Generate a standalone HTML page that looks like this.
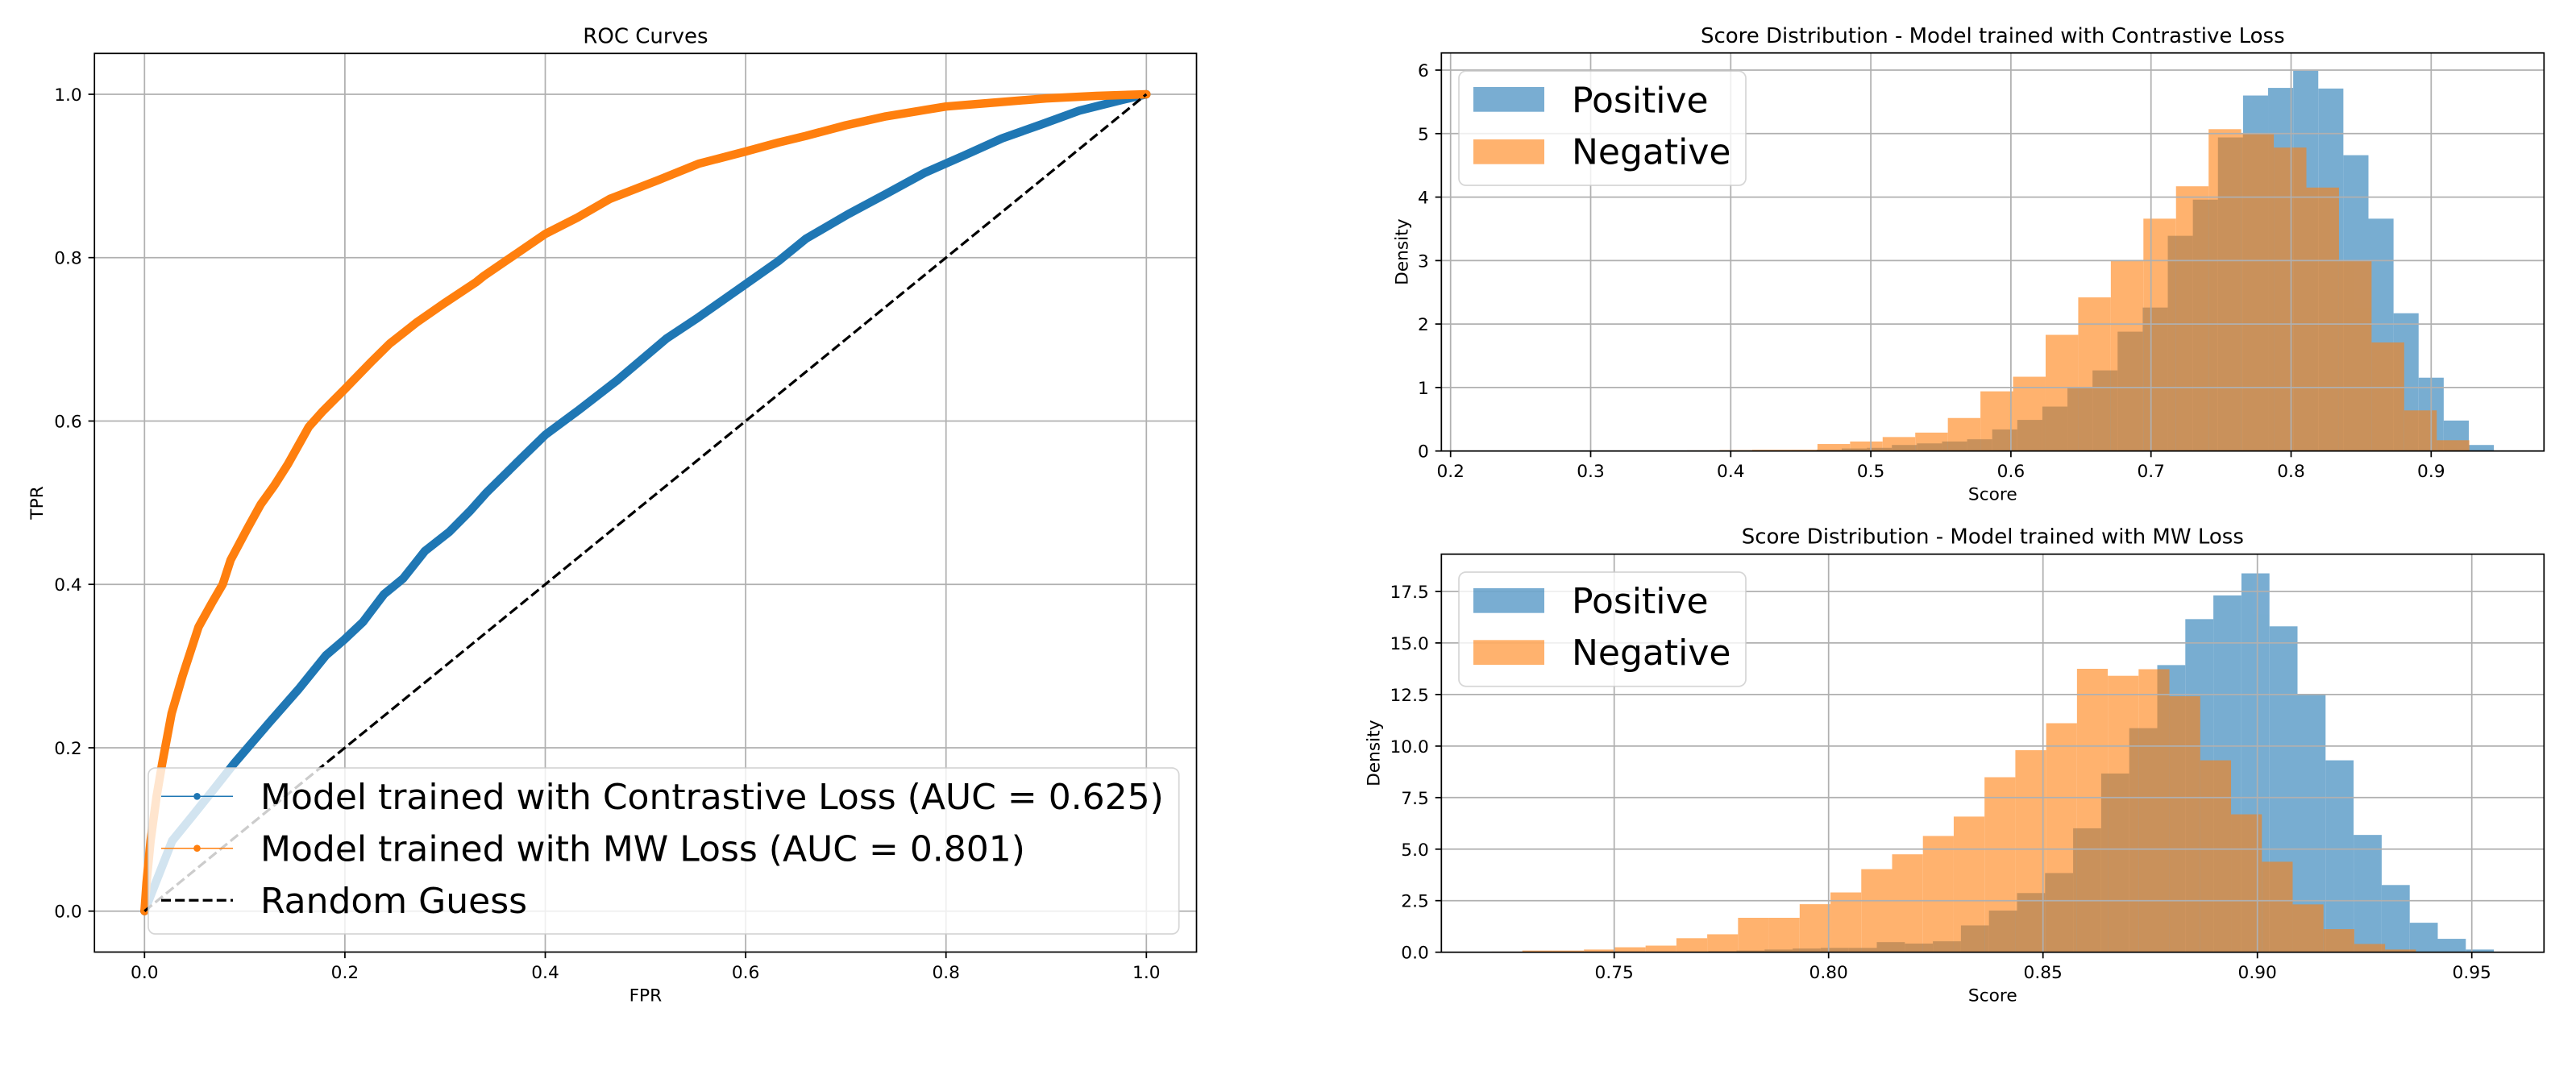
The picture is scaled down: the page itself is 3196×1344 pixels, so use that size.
<!DOCTYPE html>
<html><head><meta charset="utf-8"><style>
html,body{margin:0;padding:0;background:#fff;}
svg{display:block;}
text{font-family:"DejaVu Sans","Liberation Sans",sans-serif;fill:#000;}
.tk{font-size:21.7px;}
.ttl{font-size:26px;}
.lg{font-size:44px;}
</style></head><body>
<svg width="3196" height="1344" viewBox="0 0 3196 1344" xmlns="http://www.w3.org/2000/svg">
<rect x="0" y="0" width="3196" height="1344" fill="#fff"/>

<!-- ================= ROC ================= -->
<g stroke="#b0b0b0" stroke-width="1.73" fill="none">
<line x1="179.3" y1="66.3" x2="179.3" y2="1181.5"/>
<line x1="427.9" y1="66.3" x2="427.9" y2="1181.5"/>
<line x1="676.5" y1="66.3" x2="676.5" y2="1181.5"/>
<line x1="925.1" y1="66.3" x2="925.1" y2="1181.5"/>
<line x1="1173.7" y1="66.3" x2="1173.7" y2="1181.5"/>
<line x1="1422.3" y1="66.3" x2="1422.3" y2="1181.5"/>
<line x1="117.2" y1="1130.7" x2="1484.5" y2="1130.7"/>
<line x1="117.2" y1="928.0" x2="1484.5" y2="928.0"/>
<line x1="117.2" y1="725.2" x2="1484.5" y2="725.2"/>
<line x1="117.2" y1="522.5" x2="1484.5" y2="522.5"/>
<line x1="117.2" y1="319.7" x2="1484.5" y2="319.7"/>
<line x1="117.2" y1="117.0" x2="1484.5" y2="117.0"/>
</g>
<polyline fill="none" stroke="#1f77b4" stroke-width="10.5" stroke-linejoin="round" stroke-linecap="round" points="179.3,1130.7 213.6,1043.5 240.0,1011.1 266.7,977.6 289.9,948.2 333.4,897.5 370.7,855.0 404.3,813.4 426.7,794.2 450.3,771.9 476.4,737.4 500.0,718.1 527.3,683.7 557.2,660.3 583.3,634.0 603.2,611.7 650.4,565.1 676.5,539.7 717.5,509.3 766.0,471.8 826.9,420.1 866.7,393.7 920.1,356.2 966.1,323.8 999.7,296.4 1051.9,266.0 1099.1,240.7 1147.6,214.3 1196.1,193.0 1243.3,171.7 1291.8,154.5 1339.0,137.3 1387.5,125.1 1422.3,117.0"/>
<polyline fill="none" stroke="#ff7f0e" stroke-width="10.5" stroke-linejoin="round" stroke-linecap="round" points="179.3,1130.7 181.8,1095.2 186.8,1043.5 194.2,988.8 201.1,948.2 212.9,885.4 226.5,838.8 246.4,777.9 263.3,747.5 276.3,725.2 286.2,694.8 306.7,656.3 323.5,625.9 340.3,602.6 357.1,576.2 383.2,529.6 400.5,510.3 426.7,484.0 460.2,449.5 483.8,426.2 517.4,399.8 551.0,376.5 590.7,350.1 599.4,343.1 676.5,290.3 716.3,270.1 756.7,246.8 817.0,223.4 866.7,203.2 925.1,188.0 966.1,176.8 999.7,168.7 1049.4,155.5 1099.1,144.4 1173.7,132.2 1235.9,127.1 1298.0,122.1 1360.2,119.0 1422.3,117.0"/>
<line x1="179.3" y1="1130.7" x2="1422.3" y2="117.0" stroke="#000" stroke-width="3.25" stroke-dasharray="12 5.2"/>
<!-- spines -->
<rect x="117.2" y="66.3" width="1367.3" height="1115.2" fill="none" stroke="#000" stroke-width="1.73"/>
<!-- ticks -->
<g stroke="#000" stroke-width="1.73">
<line x1="179.3" y1="1181.5" x2="179.3" y2="1189.1"/>
<line x1="427.9" y1="1181.5" x2="427.9" y2="1189.1"/>
<line x1="676.5" y1="1181.5" x2="676.5" y2="1189.1"/>
<line x1="925.1" y1="1181.5" x2="925.1" y2="1189.1"/>
<line x1="1173.7" y1="1181.5" x2="1173.7" y2="1189.1"/>
<line x1="1422.3" y1="1181.5" x2="1422.3" y2="1189.1"/>
<line x1="109.6" y1="1130.7" x2="117.2" y2="1130.7"/>
<line x1="109.6" y1="928.0" x2="117.2" y2="928.0"/>
<line x1="109.6" y1="725.2" x2="117.2" y2="725.2"/>
<line x1="109.6" y1="522.5" x2="117.2" y2="522.5"/>
<line x1="109.6" y1="319.7" x2="117.2" y2="319.7"/>
<line x1="109.6" y1="117.0" x2="117.2" y2="117.0"/>
</g>
<g class="tk" text-anchor="middle">
<text x="179.3" y="1214">0.0</text>
<text x="427.9" y="1214">0.2</text>
<text x="676.5" y="1214">0.4</text>
<text x="925.1" y="1214">0.6</text>
<text x="1173.7" y="1214">0.8</text>
<text x="1422.3" y="1214">1.0</text>
</g>
<g class="tk" text-anchor="end">
<text x="101.7" y="1138.7">0.0</text>
<text x="101.7" y="936.0">0.2</text>
<text x="101.7" y="733.2">0.4</text>
<text x="101.7" y="530.5">0.6</text>
<text x="101.7" y="327.7">0.8</text>
<text x="101.7" y="125.0">1.0</text>
</g>
<text class="ttl" x="800.9" y="53.3" text-anchor="middle">ROC Curves</text>
<text class="tk" x="800.9" y="1242.5" text-anchor="middle">FPR</text>
<text class="tk" x="52.9" y="623.9" text-anchor="middle" transform="rotate(-90 52.9 623.9)">TPR</text>
<!-- legend -->
<rect x="184" y="953" width="1278.7" height="206" rx="8.7" ry="8.7" fill="#fff" fill-opacity="0.8" stroke="#cccccc" stroke-opacity="0.8" stroke-width="1.73"/>
<line x1="200" y1="988.3" x2="289" y2="988.3" stroke="#1f77b4" stroke-width="1.5"/>
<circle cx="244.5" cy="988.3" r="4.3" fill="#1f77b4"/>
<line x1="200" y1="1052.7" x2="289" y2="1052.7" stroke="#ff7f0e" stroke-width="1.5"/>
<circle cx="244.5" cy="1052.7" r="4.3" fill="#ff7f0e"/>
<line x1="200" y1="1117.3" x2="289" y2="1117.3" stroke="#000" stroke-width="3.25" stroke-dasharray="12 5.2"/>
<text class="lg" x="323" y="1004">Model trained with Contrastive Loss (AUC = 0.625)</text>
<text class="lg" x="323" y="1068.5">Model trained with MW Loss (AUC = 0.801)</text>
<text class="lg" x="323" y="1133">Random Guess</text>

<!-- ================= TOP HIST ================= -->
<g transform="translate(2160.5,559.7) scale(31.12,-78.78)">
<g fill="#1f77b4" opacity="0.6">
<rect x="0" y="0" width="1" height="0.005"/><rect x="1" y="0" width="1" height="0.005"/><rect x="2" y="0" width="1" height="0.01"/><rect x="3" y="0" width="1" height="0.02"/><rect x="4" y="0" width="1" height="0.04"/><rect x="5" y="0" width="1" height="0.05"/><rect x="6" y="0" width="1" height="0.095"/><rect x="7" y="0" width="1" height="0.12"/><rect x="8" y="0" width="1" height="0.15"/><rect x="9" y="0" width="1" height="0.185"/><rect x="10" y="0" width="1" height="0.34"/><rect x="11" y="0" width="1" height="0.49"/><rect x="12" y="0" width="1" height="0.70"/><rect x="13" y="0" width="1" height="1.0"/><rect x="14" y="0" width="1" height="1.27"/><rect x="15" y="0" width="1" height="1.88"/><rect x="16" y="0" width="1" height="2.26"/><rect x="17" y="0" width="1" height="3.39"/><rect x="18" y="0" width="1" height="3.96"/><rect x="19" y="0" width="1" height="4.94"/><rect x="20" y="0" width="1" height="5.60"/><rect x="21" y="0" width="1" height="5.72"/><rect x="22" y="0" width="1" height="5.99"/><rect x="23" y="0" width="1" height="5.71"/><rect x="24" y="0" width="1" height="4.66"/><rect x="25" y="0" width="1" height="3.66"/><rect x="26" y="0" width="1" height="2.17"/><rect x="27" y="0" width="1" height="1.155"/><rect x="28" y="0" width="1" height="0.48"/><rect x="29" y="0" width="1" height="0.095"/>
</g></g>
<g transform="translate(1850.5,559.7) scale(40.44,-78.78)">
<g fill="#ff7f0e" opacity="0.6">
<rect x="6" y="0" width="1" height="0.01"/><rect x="7" y="0" width="1" height="0.015"/><rect x="8" y="0" width="1" height="0.02"/><rect x="9" y="0" width="1" height="0.02"/><rect x="10" y="0" width="1" height="0.11"/><rect x="11" y="0" width="1" height="0.15"/><rect x="12" y="0" width="1" height="0.22"/><rect x="13" y="0" width="1" height="0.29"/><rect x="14" y="0" width="1" height="0.52"/><rect x="15" y="0" width="1" height="0.94"/><rect x="16" y="0" width="1" height="1.17"/><rect x="17" y="0" width="1" height="1.83"/><rect x="18" y="0" width="1" height="2.42"/><rect x="19" y="0" width="1" height="3.01"/><rect x="20" y="0" width="1" height="3.66"/><rect x="21" y="0" width="1" height="4.17"/><rect x="22" y="0" width="1" height="5.07"/><rect x="23" y="0" width="1" height="5.0"/><rect x="24" y="0" width="1" height="4.78"/><rect x="25" y="0" width="1" height="4.15"/><rect x="26" y="0" width="1" height="3.0"/><rect x="27" y="0" width="1" height="1.71"/><rect x="28" y="0" width="1" height="0.64"/><rect x="29" y="0" width="1" height="0.17"/>
</g></g>
<g stroke="#b0b0b0" stroke-width="1.73" fill="none">
<line x1="1799.7" y1="65.7" x2="1799.7" y2="559.7"/>
<line x1="1973.5" y1="65.7" x2="1973.5" y2="559.7"/>
<line x1="2147.3" y1="65.7" x2="2147.3" y2="559.7"/>
<line x1="2321.1" y1="65.7" x2="2321.1" y2="559.7"/>
<line x1="2494.9" y1="65.7" x2="2494.9" y2="559.7"/>
<line x1="2668.7" y1="65.7" x2="2668.7" y2="559.7"/>
<line x1="2842.5" y1="65.7" x2="2842.5" y2="559.7"/>
<line x1="3016.3" y1="65.7" x2="3016.3" y2="559.7"/>
<line x1="1788.3" y1="480.9" x2="3156.3" y2="480.9"/>
<line x1="1788.3" y1="402.1" x2="3156.3" y2="402.1"/>
<line x1="1788.3" y1="323.4" x2="3156.3" y2="323.4"/>
<line x1="1788.3" y1="244.6" x2="3156.3" y2="244.6"/>
<line x1="1788.3" y1="165.8" x2="3156.3" y2="165.8"/>
<line x1="1788.3" y1="87.0" x2="3156.3" y2="87.0"/>
</g>
<rect x="1788.3" y="65.7" width="1368" height="494" fill="none" stroke="#000" stroke-width="1.73"/>
<g stroke="#000" stroke-width="1.73">
<line x1="1799.7" y1="559.7" x2="1799.7" y2="567.3"/>
<line x1="1973.5" y1="559.7" x2="1973.5" y2="567.3"/>
<line x1="2147.3" y1="559.7" x2="2147.3" y2="567.3"/>
<line x1="2321.1" y1="559.7" x2="2321.1" y2="567.3"/>
<line x1="2494.9" y1="559.7" x2="2494.9" y2="567.3"/>
<line x1="2668.7" y1="559.7" x2="2668.7" y2="567.3"/>
<line x1="2842.5" y1="559.7" x2="2842.5" y2="567.3"/>
<line x1="3016.3" y1="559.7" x2="3016.3" y2="567.3"/>
<line x1="1780.7" y1="559.7" x2="1788.3" y2="559.7"/>
<line x1="1780.7" y1="480.9" x2="1788.3" y2="480.9"/>
<line x1="1780.7" y1="402.1" x2="1788.3" y2="402.1"/>
<line x1="1780.7" y1="323.4" x2="1788.3" y2="323.4"/>
<line x1="1780.7" y1="244.6" x2="1788.3" y2="244.6"/>
<line x1="1780.7" y1="165.8" x2="1788.3" y2="165.8"/>
<line x1="1780.7" y1="87.0" x2="1788.3" y2="87.0"/>
</g>
<g class="tk" text-anchor="middle">
<text x="1799.7" y="592.2">0.2</text>
<text x="1973.5" y="592.2">0.3</text>
<text x="2147.3" y="592.2">0.4</text>
<text x="2321.1" y="592.2">0.5</text>
<text x="2494.9" y="592.2">0.6</text>
<text x="2668.7" y="592.2">0.7</text>
<text x="2842.5" y="592.2">0.8</text>
<text x="3016.3" y="592.2">0.9</text>
</g>
<g class="tk" text-anchor="end">
<text x="1772.8" y="567.7">0</text>
<text x="1772.8" y="488.9">1</text>
<text x="1772.8" y="410.1">2</text>
<text x="1772.8" y="331.4">3</text>
<text x="1772.8" y="252.6">4</text>
<text x="1772.8" y="173.8">5</text>
<text x="1772.8" y="95.0">6</text>
</g>
<text class="ttl" x="2472.3" y="53" text-anchor="middle">Score Distribution - Model trained with Contrastive Loss</text>
<text class="tk" x="2472.3" y="620.7" text-anchor="middle">Score</text>
<text class="tk" x="1746.4" y="312.7" text-anchor="middle" transform="rotate(-90 1746.4 312.7)">Density</text>
<rect x="1810" y="88.3" width="356" height="141.7" rx="8.7" ry="8.7" fill="#fff" fill-opacity="0.8" stroke="#cccccc" stroke-opacity="0.8" stroke-width="1.73"/>
<rect x="1828" y="108" width="88" height="30.7" fill="#1f77b4" opacity="0.6"/>
<rect x="1828" y="173" width="88" height="30.7" fill="#ff7f0e" opacity="0.6"/>
<text class="lg" x="1950" y="139.3">Positive</text>
<text class="lg" x="1950" y="203.7">Negative</text>

<!-- ================= BOTTOM HIST ================= -->
<g transform="translate(2050.1,1181.7) scale(34.8,-25.58)">
<g fill="#1f77b4" opacity="0.6">
<rect x="0" y="0" width="1" height="0.02"/><rect x="1" y="0" width="1" height="0.03"/><rect x="2" y="0" width="1" height="0.05"/><rect x="3" y="0" width="1" height="0.08"/><rect x="4" y="0" width="1" height="0.13"/><rect x="5" y="0" width="1" height="0.18"/><rect x="6" y="0" width="1" height="0.21"/><rect x="7" y="0" width="1" height="0.21"/><rect x="8" y="0" width="1" height="0.49"/><rect x="9" y="0" width="1" height="0.42"/><rect x="10" y="0" width="1" height="0.53"/><rect x="11" y="0" width="1" height="1.30"/><rect x="12" y="0" width="1" height="2.02"/><rect x="13" y="0" width="1" height="2.87"/><rect x="14" y="0" width="1" height="3.84"/><rect x="15" y="0" width="1" height="6.01"/><rect x="16" y="0" width="1" height="8.67"/><rect x="17" y="0" width="1" height="10.87"/><rect x="18" y="0" width="1" height="13.93"/><rect x="19" y="0" width="1" height="16.16"/><rect x="20" y="0" width="1" height="17.31"/><rect x="21" y="0" width="1" height="18.38"/><rect x="22" y="0" width="1" height="15.81"/><rect x="23" y="0" width="1" height="12.5"/><rect x="24" y="0" width="1" height="9.31"/><rect x="25" y="0" width="1" height="5.69"/><rect x="26" y="0" width="1" height="3.26"/><rect x="27" y="0" width="1" height="1.43"/><rect x="28" y="0" width="1" height="0.65"/><rect x="29" y="0" width="1" height="0.13"/>
</g></g>
<g transform="translate(1850.5,1181.7) scale(38.23,-25.58)">
<g fill="#ff7f0e" opacity="0.6">
<rect x="0" y="0" width="1" height="0.03"/><rect x="1" y="0" width="1" height="0.08"/><rect x="2" y="0" width="1" height="0.08"/><rect x="3" y="0" width="1" height="0.13"/><rect x="4" y="0" width="1" height="0.24"/><rect x="5" y="0" width="1" height="0.32"/><rect x="6" y="0" width="1" height="0.68"/><rect x="7" y="0" width="1" height="0.87"/><rect x="8" y="0" width="1" height="1.67"/><rect x="9" y="0" width="1" height="1.67"/><rect x="10" y="0" width="1" height="2.33"/><rect x="11" y="0" width="1" height="2.90"/><rect x="12" y="0" width="1" height="4.03"/><rect x="13" y="0" width="1" height="4.75"/><rect x="14" y="0" width="1" height="5.64"/><rect x="15" y="0" width="1" height="6.58"/><rect x="16" y="0" width="1" height="8.49"/><rect x="17" y="0" width="1" height="9.80"/><rect x="18" y="0" width="1" height="11.11"/><rect x="19" y="0" width="1" height="13.75"/><rect x="20" y="0" width="1" height="13.41"/><rect x="21" y="0" width="1" height="13.73"/><rect x="22" y="0" width="1" height="12.42"/><rect x="23" y="0" width="1" height="9.31"/><rect x="24" y="0" width="1" height="6.69"/><rect x="25" y="0" width="1" height="4.39"/><rect x="26" y="0" width="1" height="2.32"/><rect x="27" y="0" width="1" height="1.12"/><rect x="28" y="0" width="1" height="0.40"/><rect x="29" y="0" width="1" height="0.13"/>
</g></g>
<g stroke="#b0b0b0" stroke-width="1.73" fill="none">
<line x1="2002.7" y1="687.7" x2="2002.7" y2="1181.7"/>
<line x1="2268.7" y1="687.7" x2="2268.7" y2="1181.7"/>
<line x1="2534.7" y1="687.7" x2="2534.7" y2="1181.7"/>
<line x1="2800.7" y1="687.7" x2="2800.7" y2="1181.7"/>
<line x1="3066.7" y1="687.7" x2="3066.7" y2="1181.7"/>
<line x1="1788.3" y1="1117.7" x2="3156.3" y2="1117.7"/>
<line x1="1788.3" y1="1053.8" x2="3156.3" y2="1053.8"/>
<line x1="1788.3" y1="989.8" x2="3156.3" y2="989.8"/>
<line x1="1788.3" y1="925.9" x2="3156.3" y2="925.9"/>
<line x1="1788.3" y1="861.9" x2="3156.3" y2="861.9"/>
<line x1="1788.3" y1="797.9" x2="3156.3" y2="797.9"/>
<line x1="1788.3" y1="734.0" x2="3156.3" y2="734.0"/>
</g>
<rect x="1788.3" y="687.7" width="1368" height="494" fill="none" stroke="#000" stroke-width="1.73"/>
<g stroke="#000" stroke-width="1.73">
<line x1="2002.7" y1="1181.7" x2="2002.7" y2="1189.3"/>
<line x1="2268.7" y1="1181.7" x2="2268.7" y2="1189.3"/>
<line x1="2534.7" y1="1181.7" x2="2534.7" y2="1189.3"/>
<line x1="2800.7" y1="1181.7" x2="2800.7" y2="1189.3"/>
<line x1="3066.7" y1="1181.7" x2="3066.7" y2="1189.3"/>
<line x1="1780.7" y1="1181.7" x2="1788.3" y2="1181.7"/>
<line x1="1780.7" y1="1117.7" x2="1788.3" y2="1117.7"/>
<line x1="1780.7" y1="1053.8" x2="1788.3" y2="1053.8"/>
<line x1="1780.7" y1="989.8" x2="1788.3" y2="989.8"/>
<line x1="1780.7" y1="925.9" x2="1788.3" y2="925.9"/>
<line x1="1780.7" y1="861.9" x2="1788.3" y2="861.9"/>
<line x1="1780.7" y1="797.9" x2="1788.3" y2="797.9"/>
<line x1="1780.7" y1="734.0" x2="1788.3" y2="734.0"/>
</g>
<g class="tk" text-anchor="middle">
<text x="2002.7" y="1214.2">0.75</text>
<text x="2268.7" y="1214.2">0.80</text>
<text x="2534.7" y="1214.2">0.85</text>
<text x="2800.7" y="1214.2">0.90</text>
<text x="3066.7" y="1214.2">0.95</text>
</g>
<g class="tk" text-anchor="end">
<text x="1772.8" y="1189.7">0.0</text>
<text x="1772.8" y="1125.7">2.5</text>
<text x="1772.8" y="1061.8">5.0</text>
<text x="1772.8" y="997.8">7.5</text>
<text x="1772.8" y="933.9">10.0</text>
<text x="1772.8" y="869.9">12.5</text>
<text x="1772.8" y="805.9">15.0</text>
<text x="1772.8" y="742.0">17.5</text>
</g>
<text class="ttl" x="2472.3" y="674.7" text-anchor="middle">Score Distribution - Model trained with MW Loss</text>
<text class="tk" x="2472.3" y="1242.7" text-anchor="middle">Score</text>
<text class="tk" x="1711.4" y="934.7" text-anchor="middle" transform="rotate(-90 1711.4 934.7)">Density</text>
<rect x="1810" y="710" width="356" height="141.7" rx="8.7" ry="8.7" fill="#fff" fill-opacity="0.8" stroke="#cccccc" stroke-opacity="0.8" stroke-width="1.73"/>
<rect x="1828" y="730" width="88" height="30.7" fill="#1f77b4" opacity="0.6"/>
<rect x="1828" y="794.3" width="88" height="30.7" fill="#ff7f0e" opacity="0.6"/>
<text class="lg" x="1950" y="761">Positive</text>
<text class="lg" x="1950" y="825">Negative</text>
</svg>
</body></html>
